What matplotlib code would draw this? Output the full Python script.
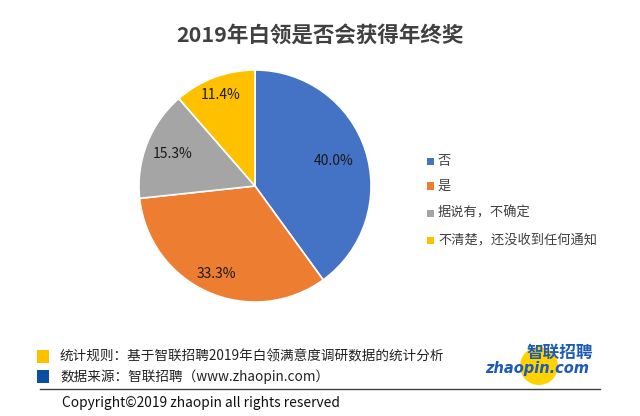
import numpy as np
import matplotlib.pyplot as plt
from matplotlib.patches import Rectangle, Ellipse

plt.rcParams['font.family'] = ['Noto Sans CJK SC', 'DejaVu Sans']

# Data
labels = ['否', '是', '据说有，不确定', '不清楚，还没收到任何通知']
values = [40.0, 33.3, 15.3, 11.4]
colors = ['#4472C4', '#ED7D31', '#A5A5A5', '#FFC000']

title = '2019年白领是否会获得年终奖'
note_rule = '统计规则：基于智联招聘2019年白领满意度调研数据的统计分析'
note_src = '数据来源：智联招聘（www.zhaopin.com）'
copyright_txt = 'Copyright©2019 zhaopin all rights reserved'

W, H = 640, 416
fig = plt.figure(figsize=(6.4, 4.16), dpi=100)
fig.patch.set_facecolor('white')

fig.text(0.5, 1 - 35 / H, title, ha='center', va='center', fontsize=15.5,
         fontweight='bold', color='#404040')

# pie: center ~ (255,186) px, radius ~116 px
ax = fig.add_axes([(255 - 118) / W, 1 - (186 + 118) / H, 236 / W, 236 / H])
wedges, texts, autotexts = ax.pie(
    values, colors=colors, startangle=90, counterclock=False,
    autopct='%.1f%%', pctdistance=0.72,
    wedgeprops=dict(edgecolor='white', linewidth=1.2),
    textprops=dict(fontsize=10, color='#1a1a1a'))
ax.set_xlim(-1.017, 1.017)
ax.set_ylim(-1.017, 1.017)
ax.set_aspect('equal')

# label placement like the excel "best fit"
label_dist = [0.71, 0.83, 0.76, 0.84]
for w, t, d in zip(wedges, autotexts, label_dist):
    ang = np.deg2rad((w.theta1 + w.theta2) / 2)
    t.set_position((d * np.cos(ang), d * np.sin(ang)))

# legend
leg_y = [161, 186, 213, 240]
for lab, col, y in zip(labels, colors, leg_y):
    fy = 1 - y / H
    fig.patches.append(Rectangle((427 / W, fy - 3.5 / H), 7 / W, 7 / H,
                                 transform=fig.transFigure, facecolor=col,
                                 edgecolor='none'))
    fig.text(438 / W, fy, lab, ha='left', va='center', fontsize=9.5,
             color='#404040')

# footer notes
fig.patches.append(Rectangle((37 / W, 1 - 363 / H), 12 / W, 13 / H,
                             transform=fig.transFigure, facecolor='#FFC000',
                             edgecolor='none'))
fig.patches.append(Rectangle((37 / W, 1 - 383 / H), 12 / W, 13 / H,
                             transform=fig.transFigure, facecolor='#0B4EA2',
                             edgecolor='none'))
fig.text(60 / W, 1 - 356 / H, note_rule, ha='left', va='center',
         fontsize=9.8, color='#222222')
fig.text(60 / W, 1 - 377 / H, note_src, ha='left', va='center',
         fontsize=9.8, color='#222222')
fig.add_artist(plt.Line2D([40 / W, 600 / W], [1 - 389 / H, 1 - 389 / H],
                          transform=fig.transFigure, color='#404040', lw=1))
fig.text(62 / W, 1 - 403 / H, copyright_txt, ha='left', va='center',
         fontsize=9.9, color='#111111')

# logo
fig.patches.append(Ellipse((539 / W, 1 - 366 / H), 38 / W, 38 / H,
                           transform=fig.transFigure, facecolor='#FFD200',
                           edgecolor='none'))
fig.text(560 / W, 1 - 353 / H, '智联招聘', ha='center', va='center',
         fontsize=12, fontweight='bold', fontstyle='italic', color='#1C5BB8')
fig.text(537 / W, 1 - 368 / H, 'zhaopin.com', ha='center', va='center',
         fontsize=10.5, fontweight='bold', fontstyle='italic', color='#1C5BB8',
         family='DejaVu Sans')

fig.savefig('out.png', dpi=100, facecolor='white')
